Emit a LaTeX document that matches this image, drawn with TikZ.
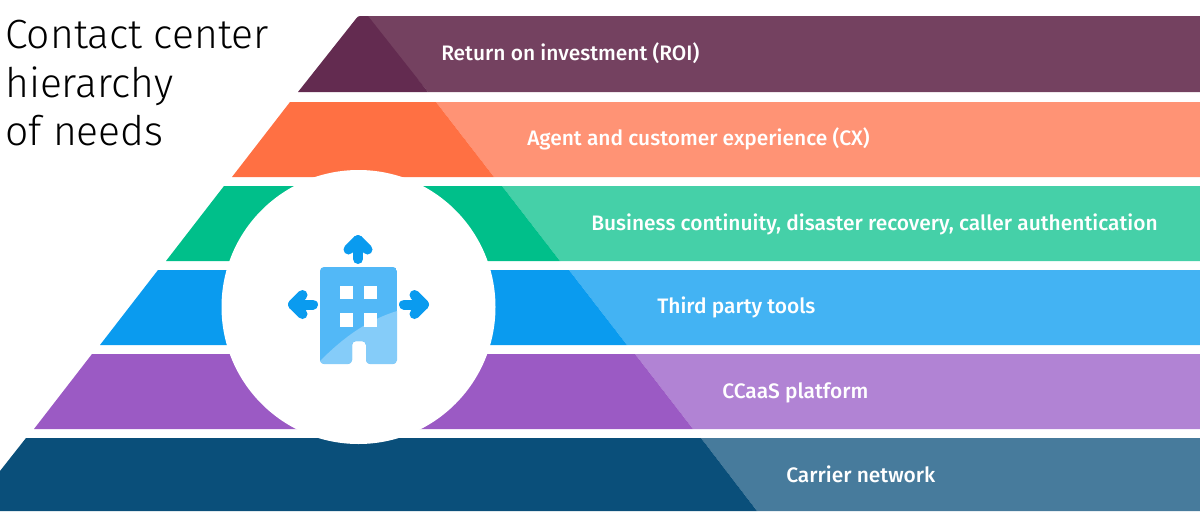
\documentclass[tikz,border=0pt]{standalone}
\usepackage{fontspec}
\setmainfont{Fira Sans}
\newfontfamily\titlefont{Fira Sans Light}
\newfontfamily\labelfont{Fira Sans Medium}
\definecolor{roiDark}{HTML}{632B50}
\definecolor{roiLight}{HTML}{744160}
\definecolor{cxDark}{HTML}{FF7043}
\definecolor{cxLight}{HTML}{FF9375}
\definecolor{bcDark}{HTML}{00BF8A}
\definecolor{bcLight}{HTML}{45D0A8}
\definecolor{toolsDark}{HTML}{0A9BEF}
\definecolor{toolsLight}{HTML}{43B3F3}
\definecolor{ccaasDark}{HTML}{9B5AC4}
\definecolor{ccaasLight}{HTML}{B183D4}
\definecolor{carrierDark}{HTML}{0A4F7A}
\definecolor{carrierLight}{HTML}{477B9C}
\definecolor{buildingMain}{HTML}{52B8F7}
\definecolor{buildingPale}{HTML}{85CCF9}
\tikzset{
    bandlabel/.style={anchor=base west,text=white,font=\labelfont\fontsize{15.7}{18}\selectfont,inner sep=0pt},
    titlelabel/.style={anchor=base west,align=left,font=\titlefont\fontsize{30.6}{37}\selectfont,inner sep=0pt},
    growarrow/.style={draw=toolsDark,line width=7.5pt,line cap=round,line join=round},
}
\begin{document}
\begin{tikzpicture}[x=0.75pt,y=-0.75pt]
    \useasboundingbox (0,0) rectangle (1200,511);

    % light bands
    \fill[roiLight] (365,16) -- (1200,16) -- (1200,92) -- (428,92) -- cycle;
    \fill[cxLight] (436,102) -- (1200,102) -- (1200,177) -- (494,177) -- cycle;
    \fill[bcLight] (502,186) -- (1200,186) -- (1200,261) -- (560,261) -- cycle;
    \fill[toolsLight] (569,270) -- (1200,270) -- (1200,345) -- (627,345) -- cycle;
    \fill[ccaasLight] (635,354) -- (1200,354) -- (1200,429) -- (693,429) -- cycle;
    \fill[carrierLight] (701,438) -- (1200,438) -- (1200,511) -- (757,511) -- cycle;

    % dark bands
    \fill[roiDark] (298,92) -- (355,20) .. controls (358,16) .. (363,16) -- (368,16) -- (428,92) -- cycle;
    \fill[cxDark] (232,177) -- (290,102) -- (436,102) -- (494,177) -- cycle;
    \fill[bcDark] (166,261) -- (224,186) -- (502,186) -- (560,261) -- cycle;
    \fill[toolsDark] (100,345) -- (158,270) -- (569,270) -- (627,345) -- cycle;
    \fill[ccaasDark] (34,429) -- (92,354) -- (635,354) -- (693,429) -- cycle;
    \fill[carrierDark] (0,471) -- (26,438) -- (701,438) -- (757,511) -- (0,511) -- cycle;

    \fill[white] (358.5,307) circle[radius=102.75pt];

    % building
    \begin{scope}
        \path[clip, rounded corners=3pt] (320,267) -- (397,267) -- (397,364) -- (366,364) -- (366,341) -- (352,341) -- (352,364) -- (320,364) -- cycle;
        \fill[buildingMain] (320,267) rectangle (397,364);
        \fill[buildingPale] (320,361) .. controls (345,336) and (368,320) .. (397,311) -- (397,364) -- (320,364) -- cycle;
    \end{scope}
    \fill[white] (340,286) rectangle (353,299);
    \fill[white] (364,286) rectangle (377,299);
    \fill[white] (340,313) rectangle (353,327);
    \fill[white] (364,313) rectangle (377,327);

    % arrows
    \draw[growarrow] (358,259) -- (358,240);
    \draw[growarrow] (348.5,249.5) -- (358,240) -- (367.5,249.5);
    \draw[growarrow] (313,304.5) -- (293,304.5);
    \draw[growarrow] (302.5,295) -- (293,304.5) -- (302.5,314);
    \draw[growarrow] (404,304.5) -- (424,304.5);
    \draw[growarrow] (414.5,295) -- (424,304.5) -- (414.5,314);

    \node[titlelabel] (titleLineOne) at (5,48) {Contact center};
    \node[titlelabel] (titleLineTwo) at (5,97) {hierarchy};
    \node[titlelabel] (titleLineThree) at (5,145) {of needs};

    \node[bandlabel] (roiLabel) at (441,60) {Return on investment (ROI)};
    \node[bandlabel] (cxLabel) at (527,145) {Agent and customer experience (CX)};
    \node[bandlabel] (bcLabel) at (591,230) {Business continuity, disaster recovery, caller authentication};
    \node[bandlabel] (toolsLabel) at (657,313) {Third party tools};
    \node[bandlabel] (ccaasLabel) at (722,398) {CCaaS platform};
    \node[bandlabel] (carrierLabel) at (786,482) {Carrier network};
\end{tikzpicture}
\end{document}
